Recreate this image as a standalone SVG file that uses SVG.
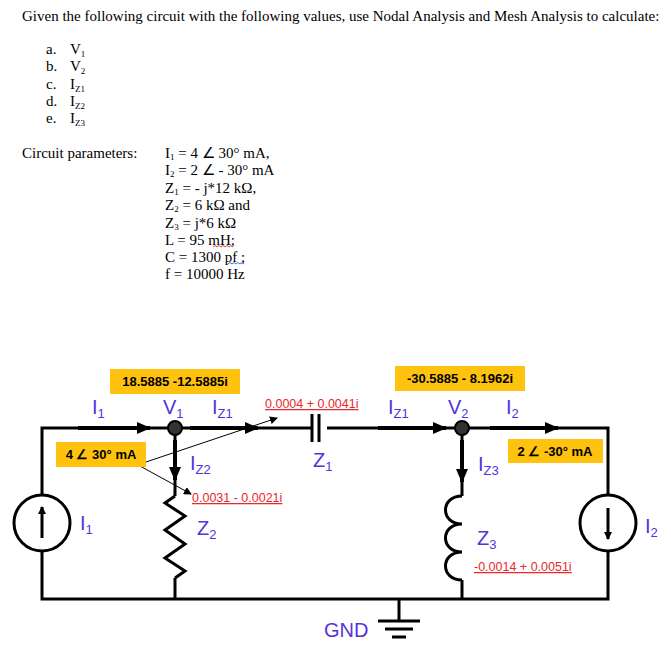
<svg xmlns="http://www.w3.org/2000/svg" width="671" height="662" viewBox="0 0 671 662">
<style>
.t{font-family:"Liberation Serif",serif;font-size:15px;fill:#000}
.s{font-size:9px}
.w{stroke:#000;stroke-width:3;fill:none}
.b{font-family:"Liberation Sans",Arial,sans-serif;font-size:20px;fill:#5533dd}
.b tspan.sub{font-size:13px}
.y{fill:#ffc20e}
.yt{font-family:"Liberation Sans",Arial,sans-serif;font-size:13px;font-weight:bold;fill:#000}
.r{font-family:"Liberation Sans",Arial,sans-serif;font-size:12.5px;fill:#e8282a;text-decoration:underline}
</style>
<defs>
<marker id="ah" markerWidth="8" markerHeight="8" refX="7" refY="4" orient="auto" markerUnits="userSpaceOnUse"><path d="M0,0 L8,4 L0,8 z" fill="#000"/></marker>
<marker id="big" markerWidth="14" markerHeight="12" refX="13" refY="6" orient="auto" markerUnits="userSpaceOnUse"><path d="M0,0 L14,6 L0,12 z" fill="#000"/></marker>
</defs>
<g id="text">
<text class="t" x="22" y="21">Given the following circuit with the following values, use Nodal Analysis and Mesh Analysis to calculate:</text>
<text class="t" x="46" y="54">a.</text><text class="t" x="70" y="54">V<tspan class="s" dy="3">1</tspan></text>
<text class="t" x="46" y="71">b.</text><text class="t" x="70" y="71">V<tspan class="s" dy="3">2</tspan></text>
<text class="t" x="46" y="89">c.</text><text class="t" x="70" y="89">I<tspan class="s" dy="3">Z1</tspan></text>
<text class="t" x="46" y="106">d.</text><text class="t" x="70" y="106">I<tspan class="s" dy="3">Z2</tspan></text>
<text class="t" x="46" y="123">e.</text><text class="t" x="70" y="123">I<tspan class="s" dy="3">Z3</tspan></text>
<text class="t" x="22" y="158">Circuit parameters:</text>
<text class="t" x="165" y="158">I<tspan class="s" dy="2">1</tspan><tspan dy="-2"> = 4 ∠ 30° mA,</tspan></text>
<text class="t" x="165" y="175">I<tspan class="s" dy="2">2</tspan><tspan dy="-2"> = 2 ∠ - 30° mA</tspan></text>
<text class="t" x="165" y="193">Z<tspan class="s" dy="2">1</tspan><tspan dy="-2"> = - j*12 kΩ,</tspan></text>
<text class="t" x="165" y="210">Z<tspan class="s" dy="2">2</tspan><tspan dy="-2"> = 6 kΩ and</tspan></text>
<text class="t" x="165" y="228">Z<tspan class="s" dy="2">3</tspan><tspan dy="-2"> = j*6 kΩ</tspan></text>
<text class="t" x="165" y="245">L = 95 mH;</text>
<text class="t" x="165" y="262">C = 1300 pf ;</text>
<text class="t" x="165" y="279">f = 10000 Hz</text>
<path d="M213,247 l2,-1.5 2,1.5 2,-1.5 2,1.5 2,-1.5 2,1.5 2,-1.5 2,1.5 2,-1.5 2,1.5" stroke="#d02020" stroke-width="0.8" fill="none"/>
<path d="M228,264 l2,-1.5 2,1.5 2,-1.5 2,1.5 2,-1.5 2,1.5 2,-1.5 2,1.5" stroke="#2040d0" stroke-width="0.8" fill="none"/>
</g>
<g id="connectors">
<path class="w" d="M42,495 V428 H312 M327,428 H608 V495 M608,551 V599 H42 V551"/>
<path class="w" d="M312,414 V442 M319,414 V442"/>
<path class="w" d="M175,428 V496 M175,578 V599"/>
<path class="w" d="M462,428 V496 M462,580 V599"/>
<path class="w" d="M399,599 V620"/>
<path class="w" d="M378,621 H420 M385,629 H413 M392,637 H406"/>
<line x1="78" y1="428" x2="150" y2="428" stroke="#000" stroke-width="4" marker-end="url(#big)"/>
<line x1="190" y1="428" x2="258" y2="428" stroke="#000" stroke-width="4" marker-end="url(#big)"/>
<line x1="378" y1="428" x2="446" y2="428" stroke="#000" stroke-width="4" marker-end="url(#big)"/>
<line x1="490" y1="428" x2="558" y2="428" stroke="#000" stroke-width="4" marker-end="url(#big)"/>
<line x1="175" y1="440" x2="175" y2="480" stroke="#000" stroke-width="4" marker-end="url(#big)"/>
<line x1="462" y1="440" x2="462" y2="482" stroke="#000" stroke-width="4" marker-end="url(#big)"/>
<line x1="140" y1="464" x2="277" y2="418" stroke="#000" stroke-width="1" marker-end="url(#ah)"/>
<line x1="140" y1="466" x2="191" y2="494" stroke="#000" stroke-width="1" marker-end="url(#ah)"/>
</g>
<g id="V1"><circle cx="175" cy="428" r="7" fill="#333" stroke="#000" stroke-width="2"/></g>
<g id="V2"><circle cx="462" cy="428" r="7" fill="#333" stroke="#000" stroke-width="2"/></g>
<g id="I1src"><circle cx="42" cy="523" r="28" fill="#fff" stroke="#000" stroke-width="3"/><line x1="42" y1="538" x2="42" y2="507" stroke="#000" stroke-width="3" marker-end="url(#ah)"/></g>
<g id="I2src"><circle cx="608" cy="523" r="28" fill="#fff" stroke="#000" stroke-width="3"/><line x1="608" y1="508" x2="608" y2="539" stroke="#000" stroke-width="3" marker-end="url(#ah)"/></g>
<g id="Z2"><path class="w" d="M175,496 L165,503 L185,516 L165,530 L185,544 L165,558 L185,571 L175,578"/></g>
<g id="Z3"><path class="w" d="M462,496 C440,496 440,524 462,524 C440,524 440,552 462,552 C440,552 440,580 462,580"/></g>
<g id="labels">
<rect class="y" x="110" y="369" width="130" height="25"/><text class="yt" x="175" y="386" text-anchor="middle">18.5885 -12.5885i</text>
<rect class="y" x="56" y="442" width="90" height="25"/><text class="yt" x="101" y="459" text-anchor="middle">4 ∠ 30° mA</text>
<rect class="y" x="395" y="366" width="130" height="25"/><text class="yt" x="460" y="383" text-anchor="middle">-30.5885 - 8.1962i</text>
<rect class="y" x="508" y="439" width="95" height="24"/><text class="yt" x="555" y="456" text-anchor="middle">2 ∠ -30° mA</text>
<text class="b" x="92" y="414">I<tspan class="sub" dy="4">1</tspan></text>
<text class="b" x="163" y="414">V<tspan class="sub" dy="4">1</tspan></text>
<text class="b" x="212" y="414">I<tspan class="sub" dy="4">Z1</tspan></text>
<text class="b" x="80" y="530">I<tspan class="sub" dy="4">1</tspan></text>
<text class="b" x="190" y="470">I<tspan class="sub" dy="4">Z2</tspan></text>
<text class="b" x="197" y="535">Z<tspan class="sub" dy="4">2</tspan></text>
<text class="b" x="313" y="467">Z<tspan class="sub" dy="4">1</tspan></text>
<text class="b" x="388" y="414">I<tspan class="sub" dy="4">Z1</tspan></text>
<text class="b" x="448" y="414">V<tspan class="sub" dy="4">2</tspan></text>
<text class="b" x="506" y="414">I<tspan class="sub" dy="4">2</tspan></text>
<text class="b" x="478" y="471">I<tspan class="sub" dy="4">Z3</tspan></text>
<text class="b" x="477" y="545">Z<tspan class="sub" dy="4">3</tspan></text>
<text class="b" x="645" y="533">I<tspan class="sub" dy="4">2</tspan></text>
<text class="b" x="324" y="637">GND</text>
<text class="r" x="265" y="408">0.0004 + 0.0041i</text>
<text class="r" x="192" y="502">0.0031 - 0.0021i</text>
<text class="r" x="474" y="571">-0.0014 + 0.0051i</text>
</g>
</svg>
